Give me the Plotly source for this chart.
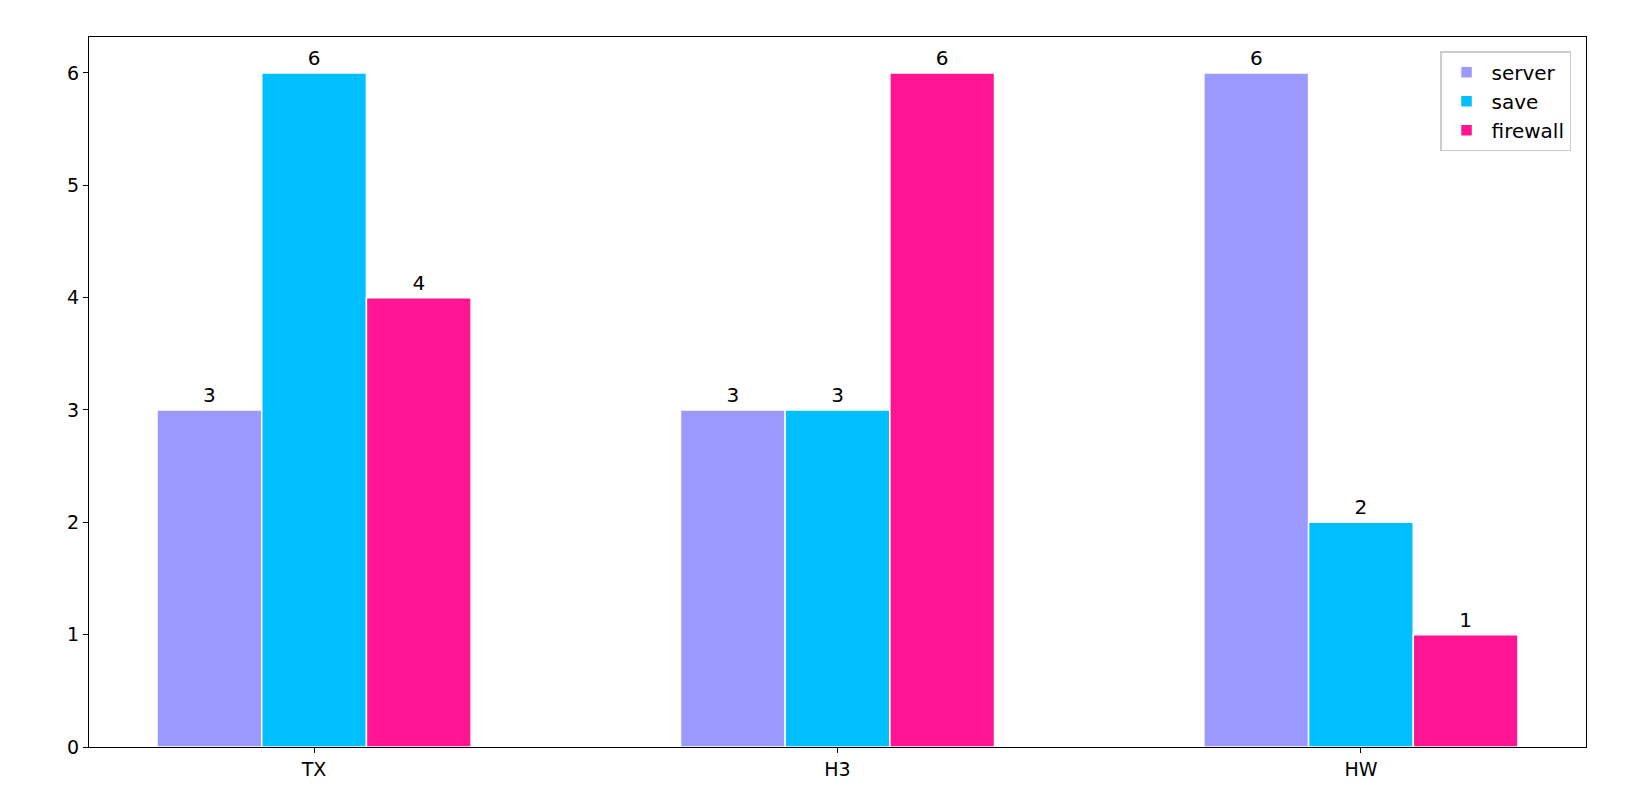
import plotly.graph_objects as go

categories = ["TX", "H3", "HW"]
series_names = ["server", "save", "firewall"]
server = [3, 3, 6]
save = [6, 3, 2]
firewall = [4, 6, 1]
colors = ["#9b99ff", "#00bfff", "#ff1493"]

fig = go.Figure()
for name, vals, c in zip(series_names, [server, save, firewall], colors):
    fig.add_trace(go.Bar(
        x=categories, y=vals, name=name, marker_color=c,
        marker_line=dict(color="white", width=1.5),
        text=vals, textposition="outside", cliponaxis=False,
        textfont=dict(size=20, color="black"),
    ))

fig.update_layout(
    width=1629, height=797,
    barmode="group", bargap=0.4, bargroupgap=0,
    plot_bgcolor="white", paper_bgcolor="white",
    font=dict(family="DejaVu Sans", size=19, color="black"),
    margin=dict(l=81, r=51, t=29, b=58),
    legend=dict(x=0.99, y=0.98, xanchor="right", yanchor="top",
                bordercolor="#cccccc", borderwidth=1.5, font=dict(size=20),
                itemwidth=40),
    xaxis=dict(range=[-0.43, 2.43], showline=True, mirror=True, linecolor="black",
               ticks="outside", tickcolor="black"),
    yaxis=dict(range=[0, 6.32], dtick=1, showline=True, mirror=True, linecolor="black",
               ticks="outside", tickcolor="black", showgrid=False, zeroline=False),
)
fig.write_html("out.html")
